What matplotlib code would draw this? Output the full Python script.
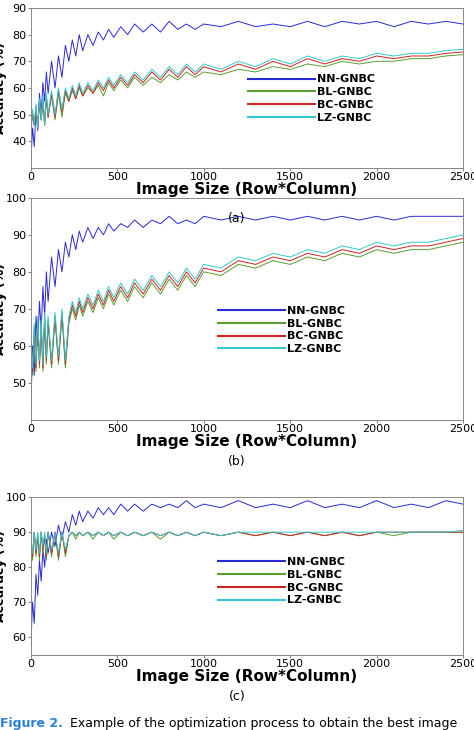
import matplotlib
matplotlib.use("Agg")
import matplotlib.pyplot as plt

x = [0,10,20,30,40,50,60,70,80,90,100,120,140,160,180,200,220,240,260,280,300,330,360,390,420,450,480,520,560,600,650,700,750,800,850,900,950,1000,1100,1200,1300,1400,1500,1600,1700,1800,1900,2000,2100,2200,2300,2400,2500]

a_nn = [32,45,38,52,44,58,50,62,55,66,58,70,60,72,64,76,70,78,72,80,74,80,76,81,78,82,79,83,80,84,81,84,81,85,82,84,82,84,83,85,83,84,83,85,83,85,84,85,83,85,84,85,84]
a_bl = [44,50,46,52,45,54,48,55,46,56,49,57,48,58,49,58,55,59,56,60,57,60,58,61,57,62,59,63,60,64,61,64,62,65,63,66,64,66,65,67,66,68,67,69,68,70,69,70,70,71,71,72,72.5]
a_bc = [44,51,46,53,45,55,48,56,46,57,49,58,49,59,51,59,55,60,56,61,57,61,58,62,59,63,60,64,61,65,62,66,63,67,64,68,65,68,66,69,67,70,68,71,69,71,70,72,71,72,72,73,73.5]
a_lz = [44,52,46,54,45,56,48,57,46,58,50,59,50,60,52,60,56,61,57,62,58,62,59,63,60,64,61,65,62,66,63,67,64,68,65,69,66,69,67,70,68,71,69,72,70,72,71,73,72,73,73,74,74.5]

b_nn = [42,60,52,68,60,72,64,76,68,80,72,84,76,86,80,88,84,90,86,91,88,92,89,92,90,93,91,93,92,94,92,94,93,95,93,94,93,95,94,95,94,95,94,95,94,95,94,95,94,95,95,95,95]
b_bl = [60,52,64,53,66,54,65,53,67,55,66,54,67,55,68,54,66,70,67,71,68,72,69,73,70,74,71,75,72,76,73,77,74,78,75,79,76,80,79,82,81,83,82,84,83,85,84,86,85,86,86,87,88]
b_bc = [61,53,65,54,67,55,66,54,68,56,67,55,68,56,69,55,67,71,68,72,69,73,70,74,71,75,72,76,73,77,74,78,75,79,76,80,77,81,80,83,82,84,83,85,84,86,85,87,86,87,87,88,89]
b_lz = [62,54,66,55,68,56,67,55,69,57,68,56,69,57,70,56,68,72,69,73,70,74,71,75,72,76,73,77,74,78,75,79,76,80,77,81,78,82,81,84,83,85,84,86,85,87,86,88,87,88,88,89,90]

c_nn = [57,70,64,78,72,82,76,85,80,88,84,90,86,92,88,93,90,95,92,96,93,96,94,97,95,97,95,98,96,98,96,98,97,98,97,99,97,98,97,99,97,98,97,99,97,98,97,99,97,98,97,99,98]
c_bl = [86,82,90,83,89,82,90,84,89,82,90,83,90,82,90,83,89,90,88,90,89,90,88,90,89,90,88,90,89,90,89,90,88,90,89,90,89,90,89,90,89,90,89,90,89,90,89,90,89,90,90,90,90]
c_bc = [87,83,90,84,89,83,90,85,89,83,90,84,90,83,90,84,89,90,89,90,89,90,89,90,89,90,89,90,89,90,89,90,89,90,89,90,89,90,89,90,89,90,89,90,89,90,89,90,90,90,90,90,90]
c_lz = [88,84,90,85,90,84,90,86,90,84,90,85,90,84,90,85,89,90,89,90,89,90,89,90,89,90,89,90,89,90,89,90,89,90,89,90,89,90,89,90,90,90,90,90,90,90,90,90,90,90,90,90,90.5]

labels = ["NN-GNBC", "BL-GNBC", "BC-GNBC", "LZ-GNBC"]
colors = ["#2a2ad6", "#5a9e2f", "#cc2222", "#33c8cc"]

panels = [
    ([a_nn, a_bl, a_bc, a_lz], [0.065, 0.770, 0.912, 0.219], (30, 90), [40,50,60,70,80,90], "(a)", 0.696, (0.48, 0.22)),
    ([b_nn, b_bl, b_bc, b_lz], [0.065, 0.425, 0.912, 0.304], (40, 100), [50,60,70,80,90,100], "(b)", 0.363, (0.41, 0.25)),
    ([c_nn, c_bl, c_bc, c_lz], [0.065, 0.103, 0.912, 0.216], (55, 100), [60,70,80,90,100], "(c)", 0.041, (0.41, 0.25)),
]

fig = plt.figure(figsize=(4.74, 7.30), dpi=100)
for series, rect, ylim, yt, tag, ty, lpos in panels:
    ax = fig.add_axes(rect)
    lines = []
    for i in range(4):
        ln, = ax.plot(x, series[i], color=colors[i], lw=0.7, label=labels[i])
        lines.append(ln)
    ax.set_xlim(0, 2500)
    ax.set_ylim(*ylim)
    ax.set_yticks(yt)
    ax.set_xticks([0,500,1000,1500,2000,2500])
    ax.tick_params(labelsize=8, length=2, color="#888888", pad=1)
    for s in ax.spines.values():
        s.set_color("#888888"); s.set_linewidth(0.7)
    ax.set_xlabel("Image Size (Row*Column)", fontsize=11, fontweight="bold", labelpad=0)
    ax.set_ylabel("Accuracy (%)", fontsize=9, fontweight="bold")
    ax.yaxis.set_label_coords(-0.055, 0.5)
    leg = ax.legend(lines, labels, loc="lower left", bbox_to_anchor=lpos, frameon=False,
                    fontsize=8, handlelength=6, labelspacing=0.25, handletextpad=0.2)
    for t in leg.get_texts():
        t.set_fontweight("bold")
    for h in leg.get_lines():
        h.set_linewidth(1.5)
    fig.text(0.5, ty, tag, ha="center", fontsize=9)

fig.text(0.0, 0.0, "Figure 2.", color="#2a7fd4", fontweight="bold", fontsize=9, va="bottom")
fig.text(0.14, 0.0, " Example of the optimization process to obtain the best image", fontsize=9, va="bottom")
fig.savefig("out.png", dpi=100)
